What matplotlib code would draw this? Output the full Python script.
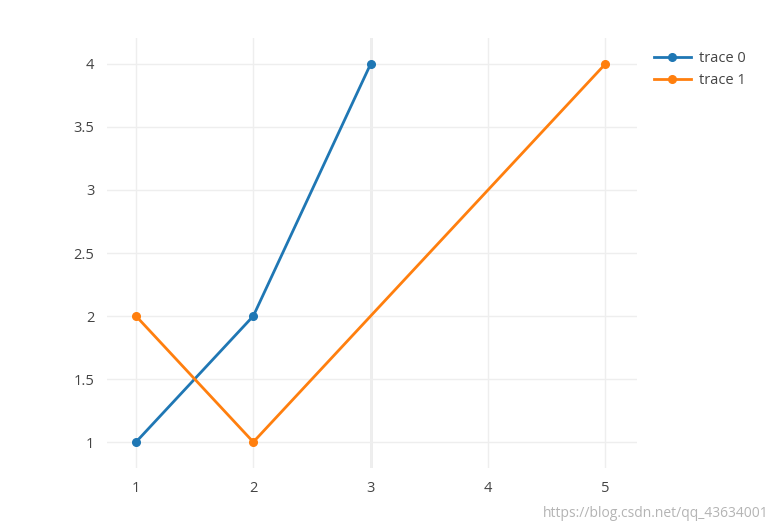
import matplotlib
matplotlib.use('Agg')
import matplotlib.pyplot as plt

plt.rcParams['font.family'] = ['Open Sans', 'DejaVu Sans']

x0 = [1, 2, 3]
y0 = [1, 2, 4]
x1 = [1, 2, 5]
y1 = [2, 1, 4]
xticks = [1, 2, 3, 4, 5]
yticks = [1, 1.5, 2, 2.5, 3, 3.5, 4]
ytick_labels = ['1', '1.5', '2', '2.5', '3', '3.5', '4']

fig = plt.figure(figsize=(7.72, 5.27), dpi=100)
ax = fig.add_axes([107/772, 1 - 468/527, 530/772, 430/527])

ax.set_xlim(0.753, 5.27)
ax.set_ylim(0.794, 4.206)

ax.set_xticks(xticks)
ax.set_yticks(yticks)
ax.set_yticklabels(ytick_labels)
ax.grid(True, color='#eeeeee', linewidth=1)
ax.set_axisbelow(True)
# the x=3 gridline is drawn heavier in the original
ax.axvline(3, color='#e8e8e8', linewidth=1.8, zorder=0)

for s in ax.spines.values():
    s.set_visible(False)
ax.tick_params(length=0, labelsize=10.5, labelcolor='#444444', pad=9)

ax.plot(x0, y0, color='#1f77b4', linewidth=2, marker='o', markersize=5.5, label='trace 0', clip_on=False)
ax.plot(x1, y1, color='#ff7f0e', linewidth=2, marker='o', markersize=5.5, label='trace 1', clip_on=False)

leg = ax.legend(loc='upper left', bbox_to_anchor=(1.016, 0.99), frameon=False,
                fontsize=10.5, handlelength=2.5, handletextpad=0.6, labelspacing=0.5,
                borderaxespad=0.2)
for t in leg.get_texts():
    t.set_color('#444444')

fig.text(0.996, 0.012, 'https://blog.csdn.net/qq_43634001', ha='right', va='bottom',
         fontsize=10, color='#b4b4b4')

plt.savefig('out.png', dpi=100)
